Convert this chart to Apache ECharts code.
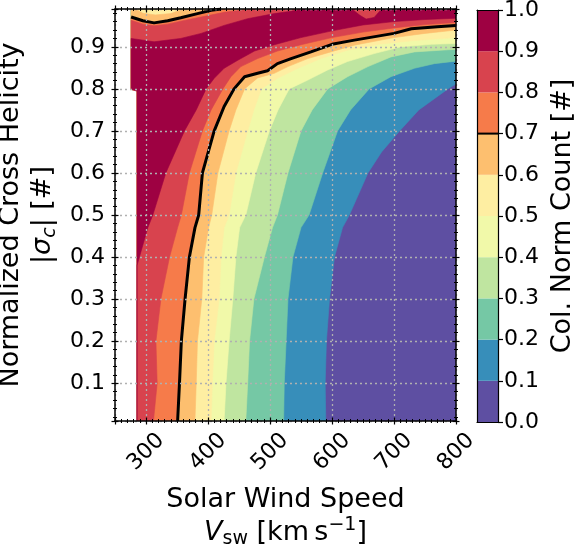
<!DOCTYPE html>
<html>
<head>
<meta charset="utf-8">
<script src="https://cdn.jsdelivr.net/npm/echarts@6/dist/echarts.min.js"></script>
<style>
  html, body { margin: 0; padding: 0; background: #fff; }
  #chart { width: 578px; height: 550px; }
</style>
</head>
<body>
<div id="chart"></div>
<script>
// axis extents (km/s, |sigma_c|)
var xRange = [250, 800];
var yRange = [0.01, 0.99];
// left edge of the binned data (starts one bin earlier above ~0.8)
var leftEdge = [[276, 0.99], [276, 0.799], [285.5, 0.795], [285.5, 0.01]];

var levels = [0.0, 0.1, 0.2, 0.3, 0.4, 0.5, 0.6, 0.7, 0.8, 0.9];
var levelColors = ['#5e4fa2', '#378eba', '#75c8a5', '#bfe5a0', '#f1f9a9',
                   '#feeea2', '#fdbf6f', '#f67b4a', '#d8434e', '#9e0142'];
var blackLevel = 0.7;

// contour lines, [Vsw, sigma_c]
// main branch: from the bottom (or left edge) up to the right edge
var c10 = [[590,0.01],[589,0.10],[591,0.20],[596,0.30],[604,0.40],[617,0.47],[628,0.50],[658,0.60],[680,0.65],[709,0.70],[740,0.75],[787,0.80],[800,0.812]];
var c20 = [[522,0.01],[523,0.10],[526,0.20],[529,0.30],[537,0.40],[550,0.47],[563,0.50],[585,0.60],[609,0.70],[630,0.75],[660,0.80],[695,0.829],[733,0.849],[765,0.860],[800,0.866]];
var c30 = [[461,0.01],[464,0.10],[467,0.20],[474,0.30],[491,0.40],[504,0.47],[512,0.50],[529,0.60],[550,0.70],[568,0.75],[593,0.80],[625,0.829],[658,0.853],[695,0.876],[733,0.888],[787,0.893],[800,0.894]];
var c40 = [[426,0.01],[429,0.10],[434,0.20],[440,0.30],[445,0.40],[451,0.47],[461,0.50],[477,0.60],[499,0.70],[513,0.75],[531,0.80],[561,0.821],[593,0.845],[625,0.865],[668,0.884],[711,0.900],[760,0.906],[800,0.908]];
var c50 = [[405,0.01],[407,0.10],[410,0.20],[418,0.30],[421,0.40],[426,0.47],[434,0.50],[445,0.60],[464,0.70],[474,0.75],[486,0.80],[512,0.825],[545,0.849],[582,0.872],[625,0.892],[679,0.907],[733,0.915],[800,0.922]];
var c60 = [[379,0.01],[381,0.10],[383,0.20],[390,0.30],[393,0.40],[401,0.47],[406,0.50],[416,0.60],[434,0.70],[445,0.75],[459,0.80],[480,0.826],[507,0.837],[529,0.853],[561,0.872],[598,0.888],[636,0.904],[700,0.922],[750,0.932],[800,0.940]];
var c70 = [[351,0.01],[354,0.10],[357,0.20],[363,0.30],[370,0.40],[379,0.47],[385,0.50],[391,0.60],[410,0.70],[426,0.758],[442,0.80],[459,0.829],[480,0.837],[496,0.843],[512,0.86],[534,0.872],[566,0.888],[600,0.906],[636,0.916],[700,0.932],[728,0.943],[770,0.948],[800,0.951]];
var c80 = [[312,0.01],[318,0.10],[316,0.20],[324,0.30],[338,0.40],[351,0.47],[357,0.50],[370,0.60],[391,0.70],[405,0.75],[424,0.80],[437,0.829],[453,0.853],[480,0.872],[512,0.89],[550,0.905],[600,0.922],[650,0.935],[700,0.945],[750,0.953],[800,0.958]];
var c90 = [[285.5,0.38],[303,0.47],[311,0.50],[332,0.60],[362,0.70],[381,0.75],[397,0.80],[410,0.825],[426,0.849],[448,0.868],[475,0.89],[507,0.905],[550,0.922],[600,0.938],[650,0.952],[700,0.96],[750,0.965],[800,0.968]];

// top strip, where values drop again (right to left along the top)
var top60 = [[360,0.99],[340,0.979],[315,0.976],[295,0.980],[283,0.99],[276,0.99]];
var top70 = [[421,0.99],[405,0.987],[383,0.979],[356,0.969],[335,0.962],[313,0.957],[295,0.962],[276,0.971]];
var top80 = [[470,0.99],[426,0.982],[389,0.971],[356,0.961],[335,0.954],[313,0.950],[295,0.954],[276,0.963]];
var top90 = [[680,0.99],[668,0.970],[655,0.966],[645,0.975],[632,0.99],[555,0.99],[531,0.984],[507,0.979],[464,0.967],[426,0.951],[389,0.932],[356,0.920],[313,0.912],[276,0.920]];

// region >= level : main branch, top-right corner, top cut, then down the left edge
function regionOf(main, top) {
  var pts = main.slice();
  pts.push([xRange[1], yRange[1]]);
  pts = pts.concat(top || [leftEdge[0]]);
  return pts.concat(leftEdge.slice(1));
}
var regions = [
  regionOf([[leftEdge[3][0], yRange[0]], [xRange[1], yRange[0]]]),
  regionOf(c10), regionOf(c20), regionOf(c30), regionOf(c40), regionOf(c50),
  regionOf(c60, top60), regionOf(c70, top70), regionOf(c80, top80), regionOf(c90, top90)
];

var font = 'DejaVu Sans';
var black = '#000';

function mainX(pos, inside, extra) {
  var ax = {
    gridIndex: 0, type: 'value', position: pos, min: xRange[0], max: xRange[1], splitNumber: 5, z: 5,
    axisLine: { show: !inside, onZero: false, lineStyle: { color: black, width: 1.5 } },
    axisTick: { show: true, inside: inside, length: 3.5, lineStyle: { color: black, width: 1.2 } },
    minorTick: { show: true, splitNumber: 10, length: 2, lineStyle: { color: black, width: 1 } },
    axisLabel: { show: false },
    splitLine: { show: false }
  };
  return Object.assign(ax, extra || {});
}
function mainY(pos, inside, extra) {
  var ax = {
    gridIndex: 0, type: 'value', position: pos, min: yRange[0], max: yRange[1], splitNumber: 10, z: 5,
    axisLine: { show: !inside, onZero: false, lineStyle: { color: black, width: 1.5 } },
    axisTick: { show: true, inside: inside, length: 3.5, lineStyle: { color: black, width: 1.2 } },
    minorTick: { show: true, splitNumber: 5, length: 2, lineStyle: { color: black, width: 1 } },
    axisLabel: { show: false },
    splitLine: { show: false }
  };
  return Object.assign(ax, extra || {});
}
var gridLine = { show: true, lineStyle: { color: '#b0b0b0', type: [2, 3], width: 1.3 } };

var chart = echarts.init(document.getElementById('chart'), null, { renderer: 'canvas' });
chart.setOption({
  animation: false,
  backgroundColor: '#fff',
  grid: [
    { left: 115, top: 9, width: 341, height: 412, containLabel: false, outerBoundsMode: 'none' },
    { left: 477, top: 10, width: 21, height: 412, containLabel: false, outerBoundsMode: 'none' }
  ],
  xAxis: [
    mainX('bottom', false, {
      axisLabel: { show: true, rotate: 45, align: 'center', verticalAlign: 'middle', margin: 31,
                   fontSize: 22, color: black, fontFamily: font, showMinLabel: false },
      splitLine: gridLine,
      name: 'Solar Wind Speed\n{v|V}{sub|sw}{n| [km\u2009s}{sup|\u22121}{n|]}',
      nameLocation: 'middle', nameGap: 62,
      nameTextStyle: {
        fontSize: 27, color: black, fontFamily: font, lineHeight: 33,
        rich: {
          v: { fontSize: 27, fontStyle: 'italic', fontFamily: font, color: black, lineHeight: 33 },
          n: { fontSize: 27, fontFamily: font, color: black, lineHeight: 33 },
          sub: { fontSize: 19, fontFamily: font, color: black, verticalAlign: 'bottom' },
          sup: { fontSize: 19, fontFamily: font, color: black, verticalAlign: 'top' }
        }
      }
    }),
    mainX('bottom', true),
    mainX('top', false),
    mainX('top', true),
    { gridIndex: 1, type: 'value', position: 'bottom', min: 0, max: 1, z: 5,
      axisLine: { show: true, onZero: false, lineStyle: { color: black, width: 1.2 } },
      axisTick: { show: false }, axisLabel: { show: false }, splitLine: { show: false } },
    { gridIndex: 1, type: 'value', position: 'top', min: 0, max: 1, z: 5,
      axisLine: { show: true, onZero: false, lineStyle: { color: black, width: 1.2 } },
      axisTick: { show: false }, axisLabel: { show: false }, splitLine: { show: false } }
  ],
  yAxis: [
    mainY('left', false, {
      axisLabel: { show: true, margin: 10, fontSize: 22, color: black, fontFamily: font,
                   showMinLabel: false, showMaxLabel: false,
                   formatter: function (v) { return v.toFixed(1); } },
      splitLine: gridLine,
      name: 'Normalized Cross Helicity\n{n||}{s|\u03c3}{sub|c}{n|| [#]}',
      nameLocation: 'middle', nameRotate: 90, nameGap: 51,
      nameTextStyle: {
        fontSize: 27, color: black, fontFamily: font, lineHeight: 32,
        rich: {
          n: { fontSize: 27, fontFamily: font, color: black, lineHeight: 32 },
          s: { fontSize: 27, fontStyle: 'italic', fontFamily: font, color: black, lineHeight: 32 },
          sub: { fontSize: 19, fontStyle: 'italic', fontFamily: font, color: black, verticalAlign: 'bottom' }
        }
      }
    }),
    mainY('left', true),
    mainY('right', false),
    mainY('right', true),
    { gridIndex: 1, type: 'value', position: 'right', min: 0, max: 1, interval: 0.1, z: 5,
      axisLine: { show: true, onZero: false, lineStyle: { color: black, width: 1.2 } },
      axisTick: { show: true, length: 5, lineStyle: { color: black, width: 1.2 } },
      axisLabel: { show: true, margin: 6, fontSize: 22, color: black, fontFamily: font,
                   formatter: function (v) { return v.toFixed(1); } },
      splitLine: { show: false },
      name: 'Col. Norm Count [#]', nameLocation: 'middle', nameRotate: 90, nameGap: 51,
      nameTextStyle: { fontSize: 27, color: black, fontFamily: font } },
    { gridIndex: 1, type: 'value', position: 'left', min: 0, max: 1, z: 5,
      axisLine: { show: true, onZero: false, lineStyle: { color: black, width: 1.2 } },
      axisTick: { show: false }, axisLabel: { show: false }, splitLine: { show: false } }
  ],
  series: [
    {
      type: 'custom', xAxisIndex: 0, yAxisIndex: 0, clip: true, z: 2,
      data: levels.map(function (l, i) { return [i]; }),
      renderItem: function (params, api) {
        var i = params.dataIndex;
        var pts = regions[i].map(function (p) { return api.coord(p); });
        return { type: 'polygon', z2: i, shape: { points: pts },
                 style: { fill: levelColors[i], stroke: levelColors[i], lineWidth: 0.6 } };
      }
    },
    { type: 'line', xAxisIndex: 0, yAxisIndex: 0, data: c70, symbol: 'none', z: 3, clip: true,
      lineStyle: { color: black, width: 3 } },
    { type: 'line', xAxisIndex: 0, yAxisIndex: 0, data: top70, symbol: 'none', z: 3, clip: true,
      lineStyle: { color: black, width: 3 } },
    // colour bar
    {
      type: 'custom', xAxisIndex: 4, yAxisIndex: 4, z: 2,
      data: levels.map(function (l, i) { return [i]; }),
      renderItem: function (params, api) {
        var i = params.dataIndex;
        var p0 = api.coord([0, levels[i] + 0.1]);
        var p1 = api.coord([1, levels[i]]);
        return { type: 'rect', shape: { x: p0[0], y: p0[1], width: p1[0] - p0[0], height: p1[1] - p0[1] },
                 style: { fill: levelColors[i] } };
      }
    },
    { type: 'line', xAxisIndex: 4, yAxisIndex: 4, data: [[0, blackLevel], [1, blackLevel]], symbol: 'none', z: 3,
      lineStyle: { color: black, width: 2 } }
  ]
});
</script>
</body>
</html>
